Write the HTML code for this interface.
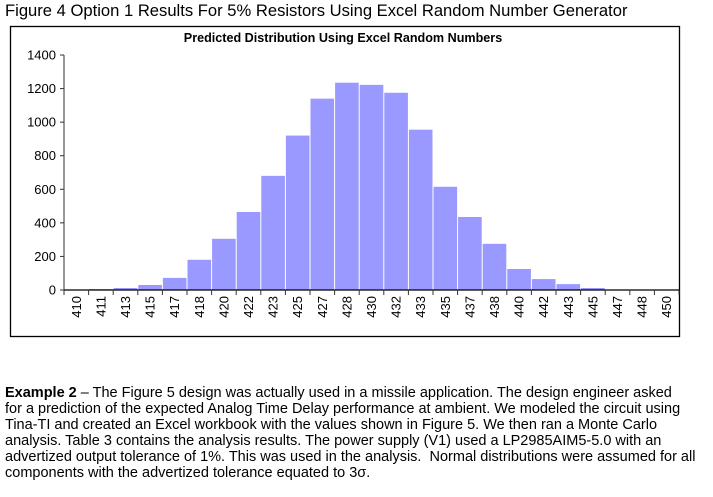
<!DOCTYPE html>
<html><head><meta charset="utf-8"><style>
body{margin:0;width:713px;height:497px;background:#fff;font-family:"Liberation Sans",Arial,sans-serif;position:relative;overflow:hidden}
#fig{position:absolute;left:5px;top:1px;font-size:16.6px;color:#000;white-space:nowrap}
#para{position:absolute;left:5px;top:385px;font-size:14.5px;line-height:16px;color:#000;white-space:nowrap}
</style></head><body>
<div id="fig">Figure 4 Option 1 Results For 5% Resistors Using Excel Random Number Generator</div>
<svg id="chart" width="713" height="497" style="position:absolute;left:0;top:0"></svg>
<div id="para"><b>Example 2</b> – The Figure 5 design was actually used in a missile application. The design engineer asked<br>for a prediction of the expected Analog Time Delay performance at ambient. We modeled the circuit using<br>Tina-TI and created an Excel workbook with the values shown in Figure 5. We then ran a Monte Carlo<br>analysis. Table 3 contains the analysis results. The power supply (V1) used a LP2985AIM5-5.0 with an<br>advertized output tolerance of 1%. This was used in the analysis.&nbsp; Normal distributions were assumed for all<br>components with the advertized tolerance equated to 3σ.</div>
<script>
const categories=["410","411","413","415","417","418","420","422","423","425","427","428","430","432","433","435","437","438","440","442","443","445","447","448","450"];
const counts=[0,5,12,30,72,180,305,465,680,920,1140,1235,1222,1175,955,615,435,275,125,65,35,12,0,0,0];
const yTicks=[0,200,400,600,800,1000,1200,1400];
const NS="http://www.w3.org/2000/svg";
const svg=document.getElementById('chart');
const X0=64,X1=679,Y0=290,Y1=55,YMAX=1400;
const bw=(X1-X0)/categories.length;
const x=i=>X0+i*bw;
const y=v=>Y0-(v/YMAX)*(Y0-Y1);
function mk(t,a){const e=document.createElementNS(NS,t);for(const k in a)e.setAttribute(k,a[k]);svg.appendChild(e);return e;}
const box=mk('rect',{x:10.5,y:26.5,width:669,height:310,fill:'none',stroke:'#000','stroke-width':1.3});


const tt=mk('text',{x:343,y:42,'font-size':12.6,'font-weight':'bold','text-anchor':'middle','font-family':'Liberation Sans, Arial, sans-serif'});
tt.textContent='Predicted Distribution Using Excel Random Numbers';


counts.forEach((v,i)=>{
  if(v<=0)return;
  const r=mk('rect',{x:x(i)+0.5,y:y(v),width:bw-1,height:Y0-y(v),fill:'#9999ff'});
  
  
});
const ya=mk('line',{x1:X0,y1:Y1,x2:X0,y2:Y0,stroke:'#333','stroke-width':1});


const xa=mk('line',{x1:X0,y1:Y0,x2:X1,y2:Y0,stroke:'#000','stroke-width':1.3});


yTicks.forEach(v=>{
  mk('line',{x1:X0-4,y1:y(v),x2:X0,y2:y(v),stroke:'#333'});
  const t=mk('text',{x:X0-8,y:y(v)+4.5,'font-size':13,'text-anchor':'end','font-family':'Liberation Sans, Arial, sans-serif'});
  t.textContent=v;
  
  
});
for(let i=0;i<=categories.length;i++){mk('line',{x1:x(i),y1:Y0,x2:x(i),y2:Y0+5,stroke:'#333'});}
categories.forEach((c,i)=>{
  const cx=x(i)+bw/2+4.5,cy=296;
  const t=mk('text',{x:cx,y:cy,'font-size':13,'text-anchor':'end','font-family':'Liberation Sans, Arial, sans-serif',transform:`rotate(-90 ${cx} ${cy})`});
  t.textContent=c;
  
  
});
</script>
</body></html>
